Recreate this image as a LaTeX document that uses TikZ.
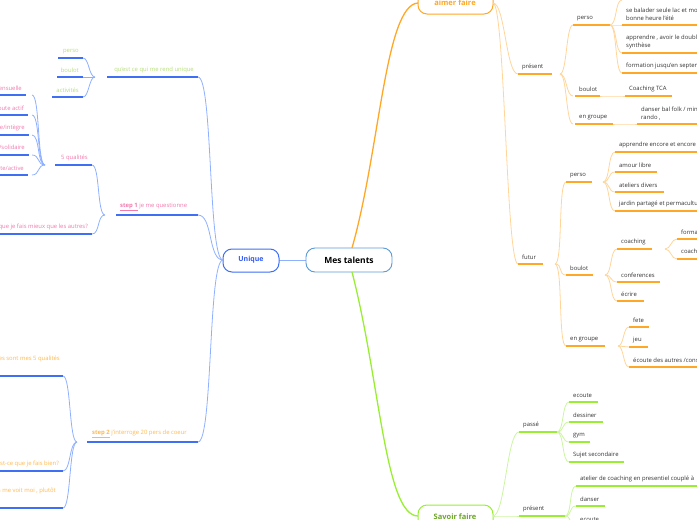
\documentclass[tikz,border=0pt]{standalone}
\usepackage{fontspec}
\setmainfont{Open Sans}
\definecolor{bl}{HTML}{3F6FF5}
\definecolor{blc}{HTML}{8FB0FF}
\definecolor{cb}{HTML}{5B9BD5}
\definecolor{orr}{HTML}{FFA726}
\definecolor{orc}{HTML}{FFD59A}
\definecolor{gr}{HTML}{99EE33}
\definecolor{grc}{HTML}{CBF5A0}
\definecolor{pk}{HTML}{F07AAE}
\definecolor{ltg}{HTML}{B5DD7A}
\definecolor{oy}{HTML}{FFB84D}
\definecolor{tx}{HTML}{333333}
\newcommand\lf[6]{% color, x1, x2, y, text, textcolor
  \draw[#1,line width=1.8pt] (#2,#4) -- (#3,#4);
  \node[anchor=south west,inner sep=0pt,text=#6,align=left,font=\fontsize{5.9}{8}\selectfont] at (#2+4,#4-4) {#5};}
\newcommand\lfe[6]{% text right-anchored at x3
  \draw[#1,line width=1.8pt] (#2,#4) -- (#3,#4);
  \node[anchor=south east,inner sep=0pt,text=#6,align=left,font=\fontsize{5.9}{8}\selectfont] at (#3-4,#4-4) {#5};}
\newcommand\cn[6]{\draw[#1,line width=0.8pt] (#2,#3) .. controls +(#6,0) and +(-#6,0) .. (#4,#5);}
\begin{document}
\begin{tikzpicture}[x=1pt,y=-1pt]
\useasboundingbox (0,0) rectangle (697,520);
\clip (0,0) rectangle (697,520);
% main boxes
\draw[blc,line width=1pt] (279,260) -- (306,260);
\draw[cb,line width=0.9pt,rounded corners=9pt,fill=white] (306,248) rectangle (392,272);
\node[font=\bfseries\fontsize{8.5}{10}\selectfont] (mt) at (349,260) {Mes talents};
% orange and green main curves
\draw[orr,line width=1.3pt] (352,248) .. controls (380,150) and (385,5) .. (418,3);
\draw[gr,line width=1.3pt] (352,272) .. controls (380,380) and (385,516) .. (418,516);
\draw[orr,line width=1pt,rounded corners=9pt,fill=white] (418,-10) rectangle (493,14);
\node[text=orr,font=\bfseries\fontsize{7.5}{9}\selectfont] (af) at (455,3) {aimer faire};
\draw[gr,line width=1pt,rounded corners=9pt,fill=white] (418,505) rectangle (493,530);
\node[text=gr!70!black,font=\bfseries\fontsize{7.5}{9}\selectfont] (sf) at (455,517) {Savoir faire};
\draw[bl,line width=1pt,rounded corners=9pt,fill=white] (223,249) rectangle (279,272);
\node[text=bl!80!blue,font=\bfseries\fontsize{7}{9}\selectfont] (un) at (251,260) {Unique};
% ===== Left side
\cn{blc}{223}{260}{198}{77}{-15}
\cn{blc}{223}{260}{198}{215}{-15}
\cn{blc}{223}{260}{198}{442}{-15}
\lfe{bl}{107}{198}{77}{qu'est ce qui me rend unique}{ltg}
\cn{blc}{95}{77}{83}{58}{-6}\cn{blc}{95}{77}{83}{77}{-6}\cn{blc}{95}{77}{83}{97}{-6}
\lfe{bl}{58}{83}{58}{perso}{ltg}
\lfe{bl}{57}{83}{77}{boulot}{ltg}
\lfe{bl}{52}{83}{97}{activités}{ltg}
\draw[bl,line width=1.8pt] (116,215) -- (198,215);
\node[anchor=south west,inner sep=0pt,text=pk,font=\fontsize{5.9}{8}\selectfont] at (120,211) {\textbf{\underline{step 1}} je me questionne};
\cn{blc}{105}{215}{92}{165}{-8}\cn{blc}{105}{215}{92}{234}{-8}
\lfe{bl}{55}{92}{165}{5 qualités}{pk}
\lfe{bl}{-150}{92}{234}{ce que je fais mieux que les autres?}{pk}
\cn{blc}{45}{165}{32}{95}{-8}\cn{blc}{45}{165}{32}{115}{-8}\cn{blc}{45}{165}{32}{135}{-8}\cn{blc}{45}{165}{32}{155}{-8}\cn{blc}{45}{165}{32}{175}{-8}
\lfe{bl}{-80}{26}{95}{sensuelle}{pk}
\lfe{bl}{-80}{28}{115}{écoute actif}{pk}
\lfe{bl}{-80}{29}{135}{honnête/intègre}{pk}
\lfe{bl}{-80}{29}{155}{généreuse/solidaire}{pk}
\lfe{bl}{-80}{28}{175}{enthousiaste/active}{pk}
\draw[bl,line width=1.8pt] (87,442) -- (198,442);
\node[anchor=south west,inner sep=0pt,text=oy,font=\fontsize{5.9}{8}\selectfont] at (92,438) {\textbf{\underline{step 2}} j'interroge 20 pers de coeur};
\cn{blc}{77}{442}{63}{376}{-8}\cn{blc}{77}{442}{63}{471}{-8}\cn{blc}{77}{442}{63}{508}{-8}
\draw[bl,line width=1.8pt] (0,376) -- (63,376);
\node[anchor=south east,inner sep=0pt,text=oy,font=\fontsize{5.9}{8}\selectfont] at (60,362) {quelles sont mes 5 qualités};
\lfe{bl}{-80}{63}{471}{qu'est-ce que je fais bien?}{oy}
\draw[bl,line width=1.8pt] (0,508) -- (63,508);
\node[anchor=south east,inner sep=0pt,text=oy,font=\fontsize{5.9}{8}\selectfont] at (56,494) {comment on me voit moi , plutôt};
% ===== aimer faire
\cn{orc}{493}{3}{518}{74}{12}\cn{orc}{493}{3}{518}{264}{12}
\lf{orr}{518}{552}{74}{présent}{tx}
\lf{orr}{518}{543}{264}{futur}{tx}
\cn{orc}{560}{74}{573}{25}{7}\cn{orc}{560}{74}{573}{96}{7}\cn{orc}{560}{74}{573}{124}{7}
\lf{orr}{573}{610}{25}{perso}{tx}
\lf{orr}{575}{600}{96}{boulot}{tx}
\lf{orr}{575}{613}{124}{en groupe}{tx}
\cn{orc}{600}{96}{625}{96}{8}\lf{orr}{625}{672}{96}{Coaching TCA}{tx}
\cn{orc}{613}{124}{637}{124}{8}\lf{orr}{637}{700}{124}{danser bal folk / mini\\rando ,}{tx}
\cn{orc}{610}{25}{622}{0}{7}\cn{orc}{610}{25}{622}{25}{7}\cn{orc}{610}{25}{622}{53}{7}\cn{orc}{610}{25}{622}{73}{7}
\lf{orr}{622}{700}{25}{se balader seule lac et montagne\\bonne heure l'été}{tx}
\lf{orr}{622}{700}{53}{apprendre , avoir le doublon\\synthèse}{tx}
\lf{orr}{622}{700}{73}{formation jusqu'en septembre}{tx}
\cn{orc}{555}{264}{566}{182}{8}\cn{orc}{555}{264}{566}{275}{8}\cn{orc}{555}{264}{566}{346}{8}
\lf{orr}{566}{592}{182}{perso}{tx}
\lf{orr}{566}{593}{275}{boulot}{tx}
\lf{orr}{566}{605}{346}{en groupe}{tx}
\cn{orc}{603}{182}{615}{152}{7}\cn{orc}{603}{182}{615}{172}{7}\cn{orc}{603}{182}{615}{192}{7}\cn{orc}{603}{182}{615}{211}{7}
\lf{orr}{615}{700}{152}{apprendre encore et encore}{tx}
\lf{orr}{615}{657}{172}{amour libre}{tx}
\lf{orr}{615}{664}{192}{ateliers divers}{tx}
\lf{orr}{615}{700}{211}{jardin partagé et permaculture}{tx}
\cn{orc}{605}{275}{617}{249}{7}\cn{orc}{605}{275}{617}{282}{7}\cn{orc}{605}{275}{617}{301}{7}
\lf{orr}{617}{652}{249}{coaching}{tx}
\lf{orr}{617}{660}{282}{conferences}{tx}
\lf{orr}{617}{644}{301}{écrire}{tx}
\cn{orc}{665}{249}{677}{239}{6}\cn{orc}{665}{249}{677}{259}{6}
\lf{orr}{677}{700}{239}{formation}{tx}
\lf{orr}{677}{700}{259}{coaching}{tx}
\cn{orc}{618}{346}{629}{327}{6}\cn{orc}{618}{346}{629}{347}{6}\cn{orc}{618}{346}{629}{367}{6}
\lf{orr}{629}{649}{327}{fete}{tx}
\lf{orr}{629}{648}{347}{jeu}{tx}
\lf{orr}{629}{700}{367}{écoute des autres /conseils}{tx}
% ===== savoir faire
\cn{grc}{493}{516}{519}{432}{12}\cn{grc}{493}{516}{519}{516}{12}
\lf{gr}{519}{557}{432}{passé}{tx}
\lf{gr}{519}{565}{516}{présent}{tx}
\cn{grc}{557}{432}{569}{402}{7}\cn{grc}{557}{432}{569}{422}{7}\cn{grc}{557}{432}{569}{442}{7}\cn{grc}{557}{432}{569}{462}{7}
\lf{gr}{569}{598}{402}{ecoute}{tx}
\lf{gr}{569}{603}{422}{dessiner}{tx}
\lf{gr}{569}{590}{442}{gym}{tx}
\lf{gr}{569}{624}{462}{Sujet secondaire}{tx}
\cn{grc}{565}{516}{576}{486}{7}\cn{grc}{565}{516}{576}{506}{7}\cn{grc}{565}{516}{576}{526}{7}
\lf{gr}{576}{700}{486}{atelier de coaching en presentiel couplé à}{tx}
\lf{gr}{576}{605}{506}{danser}{tx}
\lf{gr}{576}{605}{526}{ecoute}{tx}
\end{tikzpicture}
\end{document}
